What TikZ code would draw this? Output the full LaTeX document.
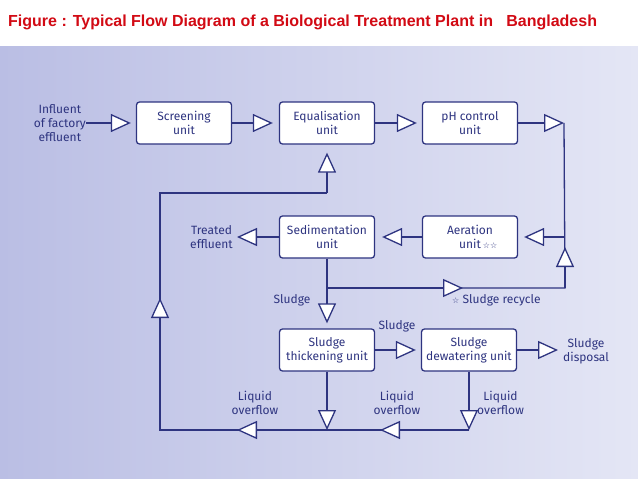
\documentclass[tikz,border=0pt]{standalone}
\usepackage{fontspec}
\setmainfont{Fira Sans}
\newfontfamily\hdr{Liberation Sans}
\newfontfamily\sym{DejaVu Sans}
\usetikzlibrary{arrows.meta}
\definecolor{navy}{RGB}{46,52,128}
\definecolor{bgl}{RGB}{186,190,228}
\definecolor{bgr}{RGB}{228,230,245}
\definecolor{hred}{RGB}{210,10,20}
\begin{document}
\begin{tikzpicture}[x=1pt,y=-1pt,
  box/.style={draw=navy,line width=1.3pt,rounded corners=3pt,fill=white,minimum width=95pt,minimum height=42pt,inner sep=0pt,align=center,text=navy,font=\fontsize{12}{14}\selectfont},
  lbl/.style={text=navy,align=center,inner sep=0pt,font=\fontsize{12}{14}\selectfont},
  ln/.style={draw=navy,line width=1.3pt},
  tri/.style={ln,-{Triangle[length=20pt,width=18pt,fill=white,line width=1.3pt]}}]
\useasboundingbox (0,0) rectangle (638,479);
\fill[white] (0,0) rectangle (638,479);
\shade[left color=bgl,right color=bgr] (0,46) rectangle (638,479);
\node[anchor=west,text=hred,inner sep=0pt,font=\hdr\bfseries\fontsize{16}{18}\selectfont] (title) at (8,22) {Figure : Typical Flow Diagram of a Biological Treatment Plant in \ \ Bangladesh};
% boxes
\node[box] (scr) at (184,123) {Screening\\unit};
\node[box] (eq) at (327,123) {Equalisation\\unit};
\node[box] (ph) at (470,123) {pH control\\unit};
\node[box] (sed) at (327,237) {Sedimentation\\unit};
\node[box] (aer) at (470,237) {Aeration\\unit\rlap{\,{\sym\fontsize{8}{8}\selectfont ☆☆}}};
\node[box] (thk) at (327,350) {Sludge\\thickening unit};
\node[box] (dew) at (469,350) {Sludge\\dewatering unit};
% labels
\node[lbl,anchor=east] (infl) at (86,123) {Influent\\of factory\\effluent};
\node[lbl,anchor=east] (treat) at (233,237) {Treated\\effluent};
\node[lbl,anchor=west] (disp) at (563,351) {Sludge\\disposal};
\node[lbl] (sl1) at (292,300) {Sludge};
\node[lbl] (sl2) at (397,326) {Sludge};
\node[lbl,anchor=west] (rec) at (452,300) {{\sym\fontsize{8}{8}\selectfont ☆} Sludge recycle};
\node[lbl] (lo1) at (255,403) {Liquid\\overflow};
\node[lbl] (lo2) at (397,403) {Liquid\\overflow};
\node[lbl,anchor=west] (lo3) at (477,403) {Liquid\\overflow};
% coordinates
\coordinate (c1) at (564,123);
\coordinate (c2) at (565,237);
\coordinate (c3) at (565,288);
\coordinate (c4) at (565,247);
\coordinate (s1) at (327,288);
\coordinate (s2) at (463,288);
\coordinate (te) at (237,237);
\coordinate (dp) at (558,350);
\coordinate (b1) at (327,430);
\coordinate (b2) at (469,430);
\coordinate (b0) at (160,430);
\coordinate (b3) at (380,430);
\coordinate (b4) at (237,430);
\coordinate (u1) at (160,298);
\coordinate (r1) at (160,193);
\coordinate (r2) at (327,193);
% plain lines
\draw[ln] (c1) -- (c3) -- (s1);
\draw[ln] (sed) -- (s1);
\draw[ln] (b2) -- (b0) -- (r1) -- (r2);
% arrows
\draw[tri] (infl.east) -- ([xshift=-5pt]scr.west);
\draw[tri,shorten >=6pt] (scr) -- (eq);
\draw[tri,shorten >=5pt] (eq) -- (ph);
\draw[tri] (ph) -- (c1);
\draw[tri,shorten >=6pt] (c2) -- (aer);
\draw[tri,shorten >=7pt] (aer) -- (sed);
\draw[tri] (sed) -- (te);
\draw[tri] (s1) -- (s2);
\draw[tri] (c3) -- (c4);
\draw[tri,shorten >=5pt] (s1) -- (thk);
\draw[tri,shorten >=5pt] (thk) -- (dew);
\draw[tri] (dew) -- (dp);
\draw[tri] (thk) -- (b1);
\draw[tri] (dew) -- (b2);
\draw[tri] (b2) -- (b3);
\draw[tri] (b1) -- (b4);
\draw[tri] (b0) -- (u1);
\draw[tri,shorten >=8pt] (r2) -- (eq);
\end{tikzpicture}
\end{document}
